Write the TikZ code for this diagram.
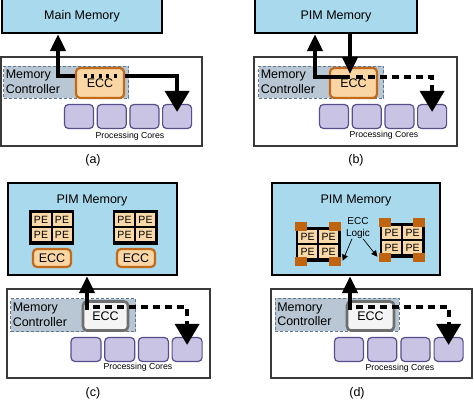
\documentclass[tikz,border=0pt]{standalone}
\usepackage{fontspec}
\setmainfont{Liberation Sans}
\usetikzlibrary{arrows.meta,positioning}

\definecolor{memblue}{HTML}{A9D9EC}
\definecolor{hostedge}{HTML}{3A3A3A}
\definecolor{mcfill}{HTML}{B8C7D3}
\definecolor{mcedge}{HTML}{5F7A8E}
\definecolor{eccfill}{HTML}{FAD6A4}
\definecolor{eccedge}{HTML}{C26A1C}
\definecolor{offfill}{HTML}{F4F4F4}
\definecolor{offedge}{HTML}{6E6E6E}
\definecolor{corefill}{HTML}{C9C4E4}
\definecolor{coreedge}{HTML}{594E8C}
\definecolor{pefill}{HTML}{FAD9A8}
\definecolor{tabfill}{HTML}{C0640F}

\begin{document}
\begin{tikzpicture}[x=1pt, y=-1pt,
		every node/.style = {inner sep=0pt, text=black,
			font=\fontsize{12.5}{14.5}\selectfont},
		mem/.style = {draw=black, line width=2.2pt, fill=memblue},
		host/.style = {draw=hostedge, line width=1.1pt, fill=white,
			minimum width=201pt, minimum height=89pt},
		mc/.style = {draw=mcedge, line width=0.9pt, fill=mcfill,
			dash pattern=on 3pt off 2pt, minimum width=125pt, minimum height=32pt},
		ctl/.style = {anchor=west, align=left},
		ecc/.style = {draw=eccedge, fill=eccfill, line width=2.2pt,
			rounded corners=4pt},
		eccoff/.style = {draw=offedge, fill=offfill, line width=2.6pt,
			rounded corners=4pt, minimum width=45pt, minimum height=29pt},
		core/.style = {draw=coreedge, fill=corefill, line width=1.2pt,
			rounded corners=4pt, minimum width=29pt, minimum height=24pt},
		pegrp/.style = {fill=black, minimum width=45pt, minimum height=35pt},
		pe/.style = {fill=pefill, minimum width=19pt, minimum height=13.5pt,
			font=\fontsize{10.5}{11}\selectfont},
		tab/.style = {fill=tabfill, minimum width=12pt, minimum height=9pt},
		small/.style = {font=\fontsize{8.7}{10}\selectfont},
		sublbl/.style = {font=\fontsize{12.5}{14}\selectfont},
		flow/.style = {line width=4pt},
		dflow/.style = {line width=4pt, dash pattern=on 7pt off 5pt},
		upa/.style = {-{Triangle[length=17pt,width=15pt]}},
		dna/.style = {-{Triangle[length=21pt,width=24pt]}},
		thinarr/.style = {line width=0.7pt, -{Triangle[length=6pt,width=6pt]}}]
	
	\useasboundingbox (0,0) rectangle (474,404);
	
	% (a)
	\node[mem, minimum width=160pt, minimum height=34pt] (memA) at (82,16) {Main Memory};
	\node[host] (hostA) at (101.5,101.5) {};
	\node[mc] (mcA) at (66,82) {};
	\node[ctl] at ([xshift=2.5pt]mcA.west) {Memory\\Controller};
	\node[ecc, minimum width=48pt, minimum height=30pt] (eccA) at (100,83) {\raisebox{-2pt}{ECC}};
	\node[core] (cA1) at (79,116.5) {};
	\node[core, right=2.5pt of cA1] (cA2) {};
	\node[core, right=2.5pt of cA2] (cA3) {};
	\node[core, right=2.5pt of cA3] (cA4) {};
	\node[small] at (130,136) {Processing Cores};
	\node[sublbl] at (93,160) {(a)};
	\coordinate (aL) at (58,76.5);
	\draw[flow, upa] (eccA.west |- aL) -- (aL) -- (aL |- memA.south);
	\draw[flow, dna] (eccA.east |- aL) -| ([yshift=-8pt]cA4.north);
	\draw[flow, dash pattern=on 3pt off 4.5pt] ([xshift=9pt]eccA.west |- aL) -- ([xshift=-6pt]eccA.east |- aL);
	
	% (b)
	\node[mem, minimum width=162pt, minimum height=34pt] (pimB) at (336,16) {PIM Memory};
	\node[host, minimum width=203pt] (hostB) at (355.5,101.5) {};
	\node[mc] (mcB) at (321,82) {};
	\node[ctl] at ([xshift=2.5pt]mcB.west) {Memory\\Controller};
	\node[ecc, minimum width=47pt, minimum height=30pt] (eccB) at (353.5,83) {\raisebox{-2pt}{ECC}};
	\node[core] (cB1) at (334,116.5) {};
	\node[core, right=2.5pt of cB1] (cB2) {};
	\node[core, right=2.5pt of cB2] (cB3) {};
	\node[core, right=2.5pt of cB3] (cB4) {};
	\node[small] at (384,135) {Processing Cores};
	\node[sublbl] at (356,160) {(b)};
	\coordinate (bB) at (350,77);
	\coordinate (bU) at (315,77);
	\draw[flow, upa] (bB) -- (bU) -- (bU |- pimB.south);
	\draw[flow, upa] (pimB.south -| bB) -- ([yshift=3pt]bB);
	\draw[dflow, dna] ([xshift=6pt]bB) -| ([yshift=-8pt]cB4.north);
	
	% (c)
	\node[mem, minimum width=169pt, minimum height=92pt] (pimC) at (92.5,229) {};
	\node at (92,200) {PIM Memory};
	\node[pegrp] (gC1) at (51.5,227) {};
	\node[pegrp] (gC2) at (135,227) {};
	\foreach \g in {gC1,gC2}
		\foreach \dx/\dy in {-10.5/-7.5, 10.5/-7.5, -10.5/7.5, 10.5/7.5}
			\node[pe] at ([shift={(\dx,\dy)}]\g) {PE};
	\node[ecc, minimum width=38pt, minimum height=18pt] (eccC1) at (52,258) {ECC};
	\node[ecc, minimum width=38pt, minimum height=18pt] (eccC2) at (136,258) {ECC};
	\node[host, minimum width=203pt] (hostC) at (108.5,333.5) {};
	\node[mc, minimum height=33pt] (mcC) at (73,315) {};
	\node[ctl] at ([xshift=2.5pt]mcC.west) {Memory\\Controller};
	\node[eccoff] (eccC) at (105.5,316) {\raisebox{-2pt}{ECC}};
	\node[core, minimum width=30pt] (cC1) at (86,349.5) {};
	\node[core, minimum width=30pt, right=2.5pt of cC1] (cC2) {};
	\node[core, minimum width=30pt, right=2.5pt of cC2] (cC3) {};
	\node[core, minimum width=30pt, right=2.5pt of cC3] (cC4) {};
	\node[small] at (138,367) {Processing Cores};
	\node[sublbl] at (93,393) {(c)};
	\coordinate (cU) at (87,307);
	\draw[flow, upa] ([yshift=-3pt]cU) -- (cU |- pimC.south);
	\draw[dflow, dna] ([xshift=6pt]cU) -| ([yshift=-8pt]cC4.north);
	
	% (d)
	\node[mem, minimum width=168pt, minimum height=92pt] (pimD) at (356,229) {};
	\node at (356,200) {PIM Memory};
	\node[pegrp] (gD1) at (318,244) {};
	\node[pegrp] (gD2) at (402,240) {};
	\foreach \g in {gD1,gD2} {
		\foreach \dx/\dy in {-10.5/-7.5, 10.5/-7.5, -10.5/7.5, 10.5/7.5}
			\node[pe] at ([shift={(\dx,\dy)}]\g) {PE};
		\foreach \dx/\dy in {-17/-17.5, 17/-17.5, -17/17.5, 17/17.5}
			\node[tab] at ([shift={(\dx,\dy)}]\g) {};
	}
	\node[align=center, font=\fontsize{10}{12}\selectfont] (logic) at (358,228) {ECC\\Logic};
	\draw[thinarr] ([xshift=-6pt]logic.south) -- ([shift={(2,-1)}]gD1.south east);
	\draw[thinarr] ([xshift=5pt]logic.south) -- ([shift={(-2,-1)}]gD2.south west);
	\node[host] (hostD) at (371.5,333.5) {};
	\node[mc, minimum width=124pt, minimum height=33pt] (mcD) at (337,314.5) {};
	\node[ctl] at ([xshift=2.5pt]mcD.west) {Memory\\Controller};
	\node[eccoff, minimum width=47pt] (eccD) at (370.5,316) {\raisebox{-2pt}{ECC}};
	\node[core] (cD1) at (349,349.5) {};
	\node[core, right=3pt of cD1] (cD2) {};
	\node[core, right=3pt of cD2] (cD3) {};
	\node[core, right=3pt of cD3] (cD4) {};
	\node[small] at (400,368) {Processing Cores};
	\node[sublbl] at (357,393) {(d)};
	\coordinate (dU) at (350,307);
	\draw[flow, upa] ([yshift=-3pt]dU) -- (dU |- pimD.south);
	\draw[dflow, dna] ([xshift=6pt]dU) -| ([yshift=-8pt]cD4.north);
\end{tikzpicture}
\end{document}
